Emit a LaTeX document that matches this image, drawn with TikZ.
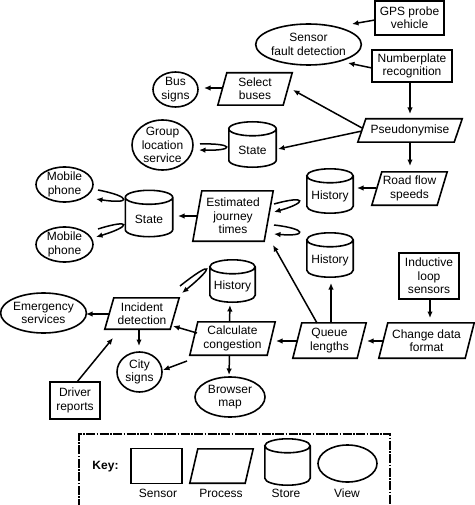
\documentclass[tikz,border=0pt]{standalone}
\usepackage{fontspec}
\setmainfont{Liberation Sans}
\usetikzlibrary{shapes.geometric,arrows.meta,calc}
\begin{document}
\begin{tikzpicture}[x=1pt,y=1pt,
  txt/.style={font=\fontsize{12}{13.3}\selectfont, align=center, inner sep=0pt},
  shp/.style={line width=1.6pt},
  sensor/.style={txt, shp, draw, rectangle},
  view/.style={txt, shp, draw, ellipse},
  proc/.style={txt, rectangle},
  store/.style={txt, rectangle},
  stl/.style={label={[txt,yshift=-5.5pt]center:#1}},
  arr/.style={line width=1.5pt, -{Latex[length=6.5pt,width=5.5pt]}},
  keybox/.style={line width=1.5pt, dash pattern=on 9pt off 1.5pt on 1.5pt off 1.5pt},
]
\useasboundingbox (0,0) rectangle (474,-505);

% ---------- nodes ----------
\node[sensor, minimum width=69pt, minimum height=34pt] (gps) at (409.5,-18) {GPS probe\\vehicle};
\node[view, minimum width=95pt, minimum height=41pt] (sfd) at (308.5,-44.5) {Sensor\\fault detection};
\node[sensor, minimum width=80pt, minimum height=32pt] (npr) at (412,-66) {Numberplate\\recognition};
\node[proc, minimum width=104pt, minimum height=23pt] (pseudo) at (410,-130.5) {Pseudonymise};
\node[proc, minimum width=74pt, minimum height=32pt] (select) at (255,-89) {Select\\buses};
\node[view, minimum width=45pt, minimum height=35pt] (bus) at (175.5,-89.5) {Bus\\signs};
\node[store, minimum width=47pt, minimum height=45pt, stl=State] (state1) at (252.5,-144.5) {};
\node[view, minimum width=61pt, minimum height=50pt] (gls) at (162.5,-145) {Group\\location\\service};
\node[view, minimum width=57pt, minimum height=35pt] (mob1) at (64.5,-184.5) {Mobile\\phone};
\node[view, minimum width=57pt, minimum height=35pt] (mob2) at (64.5,-244.5) {Mobile\\phone};
\node[store, minimum width=47pt, minimum height=46pt, stl=State] (state2) at (149,-213.5) {};
\node[proc, minimum width=80pt, minimum height=50pt] (ejt) at (233,-216) {Estimated\\journey\\times};
\node[store, minimum width=46pt, minimum height=44pt, stl=History] (hist1) at (330,-191) {};
\node[proc, minimum width=75pt, minimum height=33pt] (road) at (409.5,-188.5) {Road flow\\speeds};
\node[store, minimum width=46pt, minimum height=44pt, stl=History] (hist2) at (330,-255) {};
\node[sensor, minimum width=60pt, minimum height=46pt] (ind) at (429,-276) {Inductive\\loop\\sensors};
\node[store, minimum width=45pt, minimum height=42pt, stl=History] (hist3) at (232.5,-281) {};
\node[proc, minimum width=74pt, minimum height=31pt] (inc) at (142,-313.5) {Incident\\detection};
\node[view, minimum width=83pt, minimum height=40pt] (ems) at (43.5,-313) {Emergency\\services};
\node[proc, minimum width=85pt, minimum height=33pt] (calc) at (232.5,-338.5) {Calculate\\congestion};
\node[proc, minimum width=73pt, minimum height=35pt] (queue) at (329.5,-340.5) {Queue\\lengths};
\node[proc, minimum width=95pt, minimum height=35pt] (chg) at (426.5,-340.5) {Change data\\format};
\node[view, minimum width=45pt, minimum height=40pt] (city) at (139.5,-372) {City\\signs};
\node[view, minimum width=70pt, minimum height=40pt] (browser) at (230,-397) {Browser\\map};
\node[sensor, minimum width=50pt, minimum height=37pt] (driver) at (75,-400.5) {Driver\\reports};

% ---------- key ----------
\node[txt, font=\fontsize{12}{13.3}\selectfont\bfseries] (keylbl) at (105.5,-467) {Key:};
\node[sensor, minimum width=51pt, minimum height=35pt] (ksensor) at (156.5,-466) {};
\node[proc, minimum width=63pt, minimum height=34pt] (kproc) at (221.5,-466) {};
\node[store, minimum width=45pt, minimum height=46pt] (kstore) at (287.5,-462) {};
\node[view, minimum width=59pt, minimum height=37pt] (kview) at (347.5,-463.5) {};
\node[txt] (lsensor) at (158,-493) {Sensor};
\node[txt] (lproc) at (221,-493) {Process};
\node[txt] (lstore) at (286,-493) {Store};
\node[txt] (lview) at (347,-493) {View};
\coordinate (kb1) at (79,-508);
\coordinate (kb2) at (79,-434);
\coordinate (kb3) at (390,-434);
\coordinate (kb4) at (390,-508);
\draw[keybox] (kb1) -- (kb2) -- (kb3) -- (kb4);

% ---------- process shapes (parallelograms) ----------
\foreach \s/\k in {pseudo/8pt, select/9pt, ejt/9pt, road/10pt, inc/9pt, calc/8pt, queue/9pt, chg/9pt, kproc/8pt}
  \draw[shp] ([xshift=\k]\s.north west) -- (\s.north east) -- ([xshift=-\k]\s.south east) -- (\s.south west) -- cycle;

% ---------- store shapes (cylinders) ----------
\foreach \s in {state1, state2, hist1, hist2, hist3, kstore}
  \draw[shp] let \p1=(\s.north west), \p2=(\s.south east), \n1={(\x2-\x1)/2} in
    (\x1,\y1-7pt) -- (\x1,\y2+7pt) arc[start angle=180, end angle=360, x radius=\n1, y radius=7pt]
    -- (\x2,\y1-7pt) arc[start angle=0, end angle=360, x radius=\n1, y radius=7pt];

% ---------- connectors ----------
\draw[arr] ([shift={(-34.5,-2)}]gps.center) -- ([shift={(43.5,20.5)}]sfd.center);
\draw[arr] ([shift={(-40,-2)}]npr.center) -- ([shift={(39.5,-18.5)}]sfd.center);
\draw[arr] ([shift={(-2,-16)}]npr.center) -- ([shift={(0,16.5)}]pseudo.center);
\draw[arr] ([shift={(-48,2.5)}]pseudo.center) -- ([shift={(38,-1)}]select.center);
\draw[arr] ([shift={(-33,1)}]select.center) -- ([shift={(28.5,1.5)}]bus.center);
\draw[arr] ([shift={(-48,-0.5)}]pseudo.center) -- ([shift={(25.5,-4.5)}]state1.center);
\draw[arr] ([shift={(0,-11.5)}]pseudo.center) -- ([shift={(0.5,22.5)}]road.center);
\draw[arr] ([shift={(-33.5,0.5)}]road.center) -- ([shift={(27,3)}]hist1.center);
\draw[arr] ([shift={(-36,0)}]ejt.center) -- ([shift={(29,-2.5)}]state2.center);
\draw[arr] ([shift={(-12.5,17.5)}]queue.center) -- ([shift={(40,-29)}]ejt.center);
\draw[arr] ([shift={(1.5,17.5)}]queue.center) -- ([shift={(1,-28)}]hist2.center);
\draw[arr] ([shift={(1,-23)}]ind.center) -- ([shift={(3.5,22.5)}]chg.center);
\draw[arr] ([shift={(-43.5,-0.5)}]chg.center) -- ([shift={(37.5,-0.5)}]queue.center);
\draw[arr] ([shift={(-32.5,-0.5)}]queue.center) -- ([shift={(43.5,-2.5)}]calc.center);
\draw[arr] ([shift={(-3,16.5)}]calc.center) -- ([shift={(-2.5,-24)}]hist3.center);
\draw[arr] ([shift={(-35.5,5.5)}]calc.center) -- ([shift={(31,-12.5)}]inc.center);
\draw[arr] ([shift={(-32,-0.5)}]inc.center) -- ([shift={(42.5,-1)}]ems.center);
\draw[arr] ([shift={(-3,-15.5)}]inc.center) -- ([shift={(-0.5,26)}]city.center);
\draw[arr] ([shift={(-45.5,-22.5)}]calc.center) -- ([shift={(23.5,2)}]city.center);
\draw[arr] ([shift={(-3,-16.5)}]calc.center) -- ([shift={(-1,22)}]browser.center);
\draw[arr] ([shift={(2,18.5)}]driver.center) -- ([shift={(-29,-24.5)}]inc.center);

% ---------- read-back loops ----------
\coordinate (h1a) at (200,-144);  \coordinate (h1b) at (199,-150);
\coordinate (h2a) at (98,-190);   \coordinate (h2b) at (96,-199);
\coordinate (h3a) at (98,-229);   \coordinate (h3b) at (96,-237);
\coordinate (h4a) at (274,-204);  \coordinate (h4b) at (274,-212);
\coordinate (h5a) at (274,-225);  \coordinate (h5b) at (274,-234);
\coordinate (h6a) at (180,-286);  \coordinate (h6b) at (182,-293);
\draw[arr] (h1a) .. controls (234.8,-143) and (234.8,-151) .. (h1b);
\draw[arr] (h2a) .. controls (131.7,-196.5) and (131.7,-204.5) .. (h2b);
\draw[arr] (h3a) .. controls (131.7,-218.3) and (131.7,-226.3) .. (h3b);
\draw[arr] (h4a) .. controls (307.3,-194.7) and (307.3,-202.7) .. (h4b);
\draw[arr] (h5a) .. controls (307.3,-228.8) and (307.3,-236.8) .. (h5b);
\draw[arr] (h6a) .. controls (214.3,-258.8) and (214.3,-266.8) .. (h6b);
\end{tikzpicture}
\end{document}
